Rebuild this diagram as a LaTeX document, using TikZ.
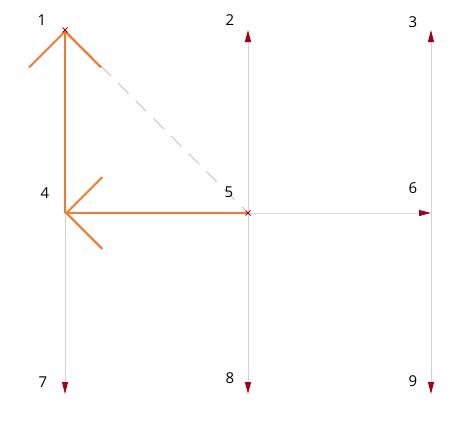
\documentclass[tikz,border=0pt]{standalone}
\usepackage{fontspec}
\setmainfont{Open Sans}
\usetikzlibrary{arrows.meta}
\definecolor{tipred}{HTML}{A0001E}
\definecolor{edgepink}{HTML}{E2CBD3}
\definecolor{edgegray}{HTML}{D8D8D8}
\definecolor{dashgray}{HTML}{C4C4C4}
\definecolor{pathorange}{HTML}{F07A30}
\tikzset{
  edge/.style={edgepink, line width=1pt, -{Triangle[length=12pt,width=6pt,color=tipred]}},
  route/.style={pathorange, line width=2pt, -{Straight Barb[length=36pt,width=72pt]}},
  lbl/.style={font=\fontsize{15}{15}\selectfont},
  cross/.style={tipred, line width=1pt}
}
\begin{document}
\begin{tikzpicture}[x=1pt,y=-1pt]
\useasboundingbox (0,0) rectangle (474,431);
\coordinate (p1) at (65,30);
\coordinate (p2) at (248,30);
\coordinate (p3) at (431,30);
\coordinate (p4) at (65,213);
\coordinate (p5) at (248,213);
\coordinate (p6) at (431,213);
\coordinate (p7) at (65,394);
\coordinate (p8) at (248,394);
\coordinate (p9) at (431,394);
% grid edges
\draw[edge] (p5) -- (p2);
\draw[edge] (p5) -- (p8);
\draw[edge, edgegray] (p5) -- (p6);
\draw[edge] (p6) -- (p3);
\draw[edge] (p6) -- (p9);
\draw[edge] (p4) -- (p7);
% shortcut
\draw[dashgray, line width=1pt, dash pattern=on 15pt off 10pt] (p1) -- (p5);
% found path
\draw[route] (p5) -- (p4);
\draw[route] (p4) -- (p1);
% markers
\draw[cross] ([shift={(-2.5,-2.5)}]p1) -- ([shift={(2.5,2.5)}]p1) ([shift={(-2.5,2.5)}]p1) -- ([shift={(2.5,-2.5)}]p1);
\draw[cross] ([shift={(-2.5,-2.5)}]p5) -- ([shift={(2.5,2.5)}]p5) ([shift={(-2.5,2.5)}]p5) -- ([shift={(2.5,-2.5)}]p5);
% labels
\node[lbl] (l1) at (42,20) {1};
\node[lbl] (l2) at (230,20) {2};
\node[lbl] (l3) at (413,22) {3};
\node[lbl] (l4) at (45,193) {4};
\node[lbl] (l5) at (229,192) {5};
\node[lbl] (l6) at (413,188) {6};
\node[lbl] (l7) at (43,382) {7};
\node[lbl] (l8) at (230,378) {8};
\node[lbl] (l9) at (413,381) {9};
\end{tikzpicture}
\end{document}
